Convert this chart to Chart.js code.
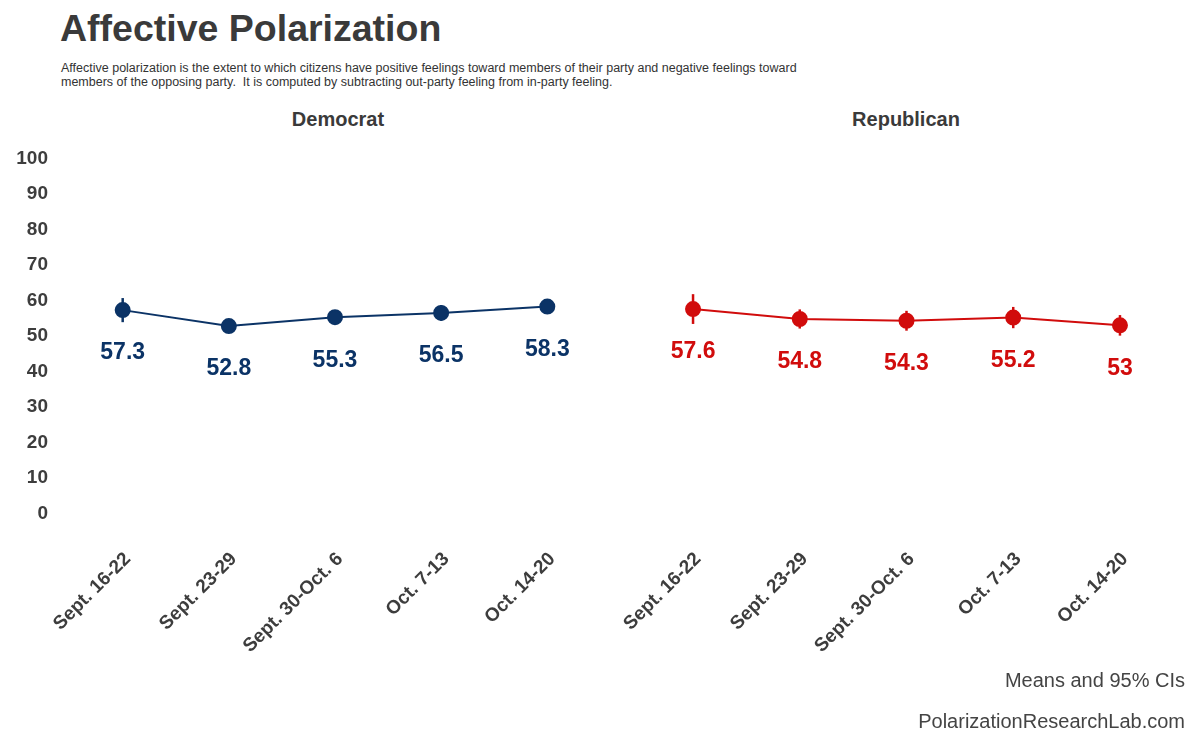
<!DOCTYPE html>
<html>
<head>
  <meta charset="utf-8">
  <title>Affective Polarization</title>
  <script src="https://cdn.jsdelivr.net/npm/chart.js"></script>
  <style>
    body {
      margin: 0;
      width: 1200px;
      height: 750px;
      position: relative;
      background: #fff;
      font-family: "Liberation Sans", Arial, sans-serif;
      color: #3a3a3a;
      overflow: hidden;
    }
    .title {
      position: absolute; left: 60px; top: 7px;
      font-size: 37.5px; font-weight: bold; color: #3a3a3a;
    }
    .subtitle {
      position: absolute; left: 61px; top: 61px;
      font-size: 12.5px; line-height: 14px; color: #333;
      white-space: nowrap;
    }
    .strip {
      position: absolute; top: 108px; width: 300px; text-align: center;
      font-size: 20px; font-weight: bold; color: #3a3a3a;
    }
    .panel { position: absolute; top: 130px; height: 540px; }
    .note {
      position: absolute; right: 15px; font-size: 20px; color: #444;
    }
  </style>
</head>
<body>
  <div class="title">Affective Polarization</div>
  <div class="subtitle">Affective polarization is the extent to which citizens have positive feelings toward members of their party and negative feelings toward<br>members of the opposing party.&nbsp; It is computed by subtracting out-party feeling from in-party feeling.</div>

  <div class="strip" style="left:188px">Democrat</div>
  <div class="strip" style="left:756px">Republican</div>

  <div class="panel" style="left:0; width:620px"><canvas id="demChart" width="620" height="540"></canvas></div>
  <div class="panel" style="left:620px; width:580px"><canvas id="repChart" width="580" height="540"></canvas></div>

  <div class="note" style="top:669px">Means and 95% CIs</div>
  <div class="note" style="top:710px">PolarizationResearchLab.com</div>

  <script>
    // survey weeks
    const weeks = ["Sept. 16-22", "Sept. 23-29", "Sept. 30-Oct. 6", "Oct. 7-13", "Oct. 14-20"];
    const yTicks = [0, 10, 20, 30, 40, 50, 60, 70, 80, 90, 100];

    // means
    const demMean = [57.3, 52.8, 55.3, 56.5, 58.3];
    const repMean = [57.6, 54.8, 54.3, 55.2, 53];

    // 95% CI bounds
    const demLow  = [53.9, 51.0, 53.5, 54.3, 56.3];
    const demHigh = [60.7, 54.6, 57.1, 58.7, 60.3];
    const repLow  = [53.4, 52.1, 51.5, 52.2, 50.1];
    const repHigh = [61.8, 57.5, 57.1, 58.2, 55.9];

    const DEM = '#0b3366';
    const REP = '#d10c0c';
    const TXT = '#3d3d3d';
    const FONT = '"Liberation Sans", Arial, sans-serif';

    // draws CI whiskers and the value labels under each point
    const extras = {
      id: 'extras',
      beforeDatasetsDraw(chart, args, opts) {
        const ctx = chart.ctx, xs = chart.scales.x, ys = chart.scales.y;
        ctx.save();
        ctx.strokeStyle = opts.color;
        ctx.lineWidth = 2.5;
        opts.low.forEach((lo, i) => {
          const px = xs.getPixelForValue(i + 1);
          ctx.beginPath();
          ctx.moveTo(px, ys.getPixelForValue(lo));
          ctx.lineTo(px, ys.getPixelForValue(opts.high[i]));
          ctx.stroke();
        });
        ctx.restore();
      },
      afterDatasetsDraw(chart, args, opts) {
        const ctx = chart.ctx, xs = chart.scales.x, ys = chart.scales.y;
        ctx.save();
        ctx.fillStyle = opts.color;
        ctx.font = 'bold 23px ' + FONT;
        ctx.textAlign = 'center';
        ctx.textBaseline = 'middle';
        opts.mean.forEach((v, i) => {
          ctx.fillText(String(v), xs.getPixelForValue(i + 1), ys.getPixelForValue(v) + 43);
        });
        ctx.restore();
      }
    };

    function makeChart(id, mean, low, high, color, showY, pad) {
      return new Chart(document.getElementById(id), {
        type: 'line',
        data: {
          datasets: [{
            data: mean.map((v, i) => ({ x: i + 1, y: v })),
            borderColor: color,
            backgroundColor: color,
            borderWidth: 2,
            pointRadius: 7,
            pointHoverRadius: 7,
            tension: 0
          }]
        },
        plugins: [extras],
        options: {
          responsive: false,
          animation: false,
          layout: { padding: pad },
          plugins: {
            legend: { display: false },
            tooltip: { enabled: false },
            extras: { mean: mean, low: low, high: high, color: color }
          },
          scales: {
            x: {
              type: 'linear',
              min: 0.4,
              max: 5.6,
              grid: { display: false },
              border: { display: false },
              afterBuildTicks: s => { s.ticks = weeks.map((w, i) => ({ value: i + 1 })); },
              afterFit: s => { s.height = 139; s.paddingLeft = 0; s.paddingRight = 0; },
              ticks: {
                autoSkip: false,
                minRotation: 45,
                maxRotation: 45,
                padding: 9,
                labelOffset: 5,
                color: TXT,
                font: { size: 19, weight: 'bold', family: FONT },
                callback: v => weeks[v - 1]
              }
            },
            y: {
              display: showY,
              min: -5,
              max: 105,
              grid: { display: false },
              border: { display: false },
              afterBuildTicks: s => { s.ticks = yTicks.map(v => ({ value: v })); },
              afterFit: s => { s.width = showY ? 59 : 0; s.paddingTop = 0; s.paddingBottom = 0; },
              ticks: {
                padding: 3,
                color: TXT,
                font: { size: 19, weight: 'bold', family: FONT }
              }
            }
          }
        }
      });
    }

    makeChart('demChart', demMean, demLow, demHigh, DEM, true, { top: 11, right: -4, left: 0, bottom: 0 });
    makeChart('repChart', repMean, repLow, repHigh, REP, false, { top: 11, right: 16, left: 5, bottom: 0 });
  </script>
</body>
</html>
